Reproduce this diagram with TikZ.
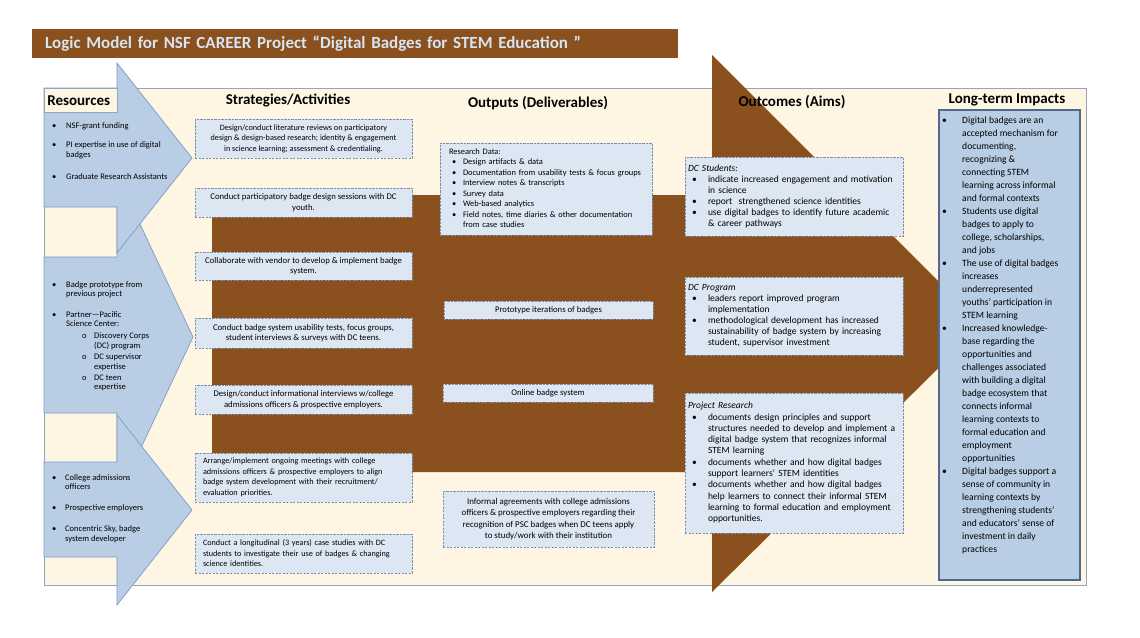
\documentclass[tikz,border=0pt]{standalone}
\usepackage{fontspec}
\setmainfont{Carlito}
\usepackage{array}
\definecolor{cream}{RGB}{254,246,226}
\definecolor{brownc}{RGB}{138,81,30}
\definecolor{bluefill}{RGB}{185,205,229}
\definecolor{blueline}{RGB}{125,155,195}
\definecolor{boxfill}{RGB}{221,231,243}
\definecolor{boxline}{RGB}{125,140,170}
\definecolor{ltline}{RGB}{80,105,140}
\definecolor{panelline}{RGB}{150,165,190}
\definecolor{titletext}{RGB}{215,228,242}
\tikzset{
  sbox/.style={draw=boxline, fill=boxfill, dash pattern=on 2.2pt off 1.3pt, line width=0.6pt, inner ysep=0pt},
  hdr/.style={font=\bfseries\fontsize{15}{18}\selectfont, text=black, inner sep=0pt},
  barrow/.style={fill=bluefill, draw=blueline, line width=0.7pt},
  reslist/.style={anchor=base west, inner sep=0pt, font=\fontsize{8.5}{9.6}\selectfont},
  stxt/.style={font=\fontsize{8.2}{10.5}\selectfont},
  stxtb/.style={font=\fontsize{8.7}{10.5}\selectfont},
  ctxt/.style={font=\fontsize{9.5}{11}\selectfont},
}
\begin{document}
\begin{tikzpicture}[x=1pt,y=-1pt]
\useasboundingbox (0,0) rectangle (1140,637);
\fill[white] (0,0) rectangle (1140,637);

% title bar
\node[fill=brownc, minimum width=646, minimum height=29, anchor=north west, inner xsep=13pt, text width=620, align=left, font=\bfseries\fontsize{17}{20}\selectfont, text=titletext] (title) at (32,29) {Logic Model for NSF CAREER Project “Digital Badges for STEM Education ”};

% background panel
\node[fill=cream, draw=panelline, line width=0.6pt, minimum width=1042, minimum height=497, anchor=north west, inner sep=0] (panel) at (44,88) {};

% big brown arrow
\fill[brownc] (212,195) -- (712,195) -- (712,55) -- (982,325) -- (712,592) -- (712,472) -- (212,472) -- cycle;

% blue resource arrows
\draw[barrow] (44,257) -- (117,257) -- (117,175) -- (193,337) -- (117,499) -- (117,413) -- (44,413) -- cycle;
\draw[barrow] (44,88) -- (117,88) -- (117,63) -- (192,158) -- (117,253) -- (117,207) -- (44,207) -- cycle;
\draw[barrow] (44,462) -- (117,462) -- (117,415) -- (192,510) -- (117,605) -- (117,557) -- (44,557) -- cycle;

% Resources label
\node[fill=cream, draw=panelline, line width=0.6pt, minimum width=73, minimum height=24, anchor=north west, inner xsep=3pt, inner ysep=0pt, text width=67, align=left, font=\bfseries\fontsize{15}{17}\selectfont] (res) at (44,88) {Resources};

% resource lists
\node[reslist] (r1) at (48,128) {\begin{tabular}[t]{@{\hspace{4pt}}p{14pt}@{}l@{}}
\textbullet & NSF-grant funding\\[10pt]
\textbullet & PI expertise in use of digital\\
 & badges\\[13pt]
\textbullet & Graduate Research Assistants
\end{tabular}};
\node[reslist] (r2) at (48,287) {\begin{tabular}[t]{@{\hspace{4pt}}p{14pt}@{}l@{}}
\textbullet & Badge prototype from\\
 & previous project\\[11pt]
\textbullet & Partner—Pacific\\
 & Science Center:\\[2.5pt]
 & \hspace{16pt}\makebox[12pt][l]{o}Discovery Corps\\
 & \hspace{28pt}(DC) program\\[1.5pt]
 & \hspace{16pt}\makebox[12pt][l]{o}DC supervisor\\
 & \hspace{28pt}expertise\\[1.5pt]
 & \hspace{16pt}\makebox[12pt][l]{o}DC teen\\
 & \hspace{28pt}expertise
\end{tabular}};
\node[reslist] (r3) at (48,480) {\begin{tabular}[t]{@{\hspace{4pt}}p{13pt}@{}l@{}}
\textbullet & College admissions\\
 & officers\\[11pt]
\textbullet & Prospective employers\\[12pt]
\textbullet & Concentric Sky, badge\\
 & system developer
\end{tabular}};

% headers
\node[hdr] (hs) at (288,100) {Strategies/Activities};
\node[hdr] (ho) at (538,103) {Outputs (Deliverables)};
\node[hdr] (hc) at (792,102) {Outcomes (Aims)};
\node[hdr] (hl) at (1007,100) {Long-term Impacts};

% strategies
\node[sbox, stxt, minimum width=217, minimum height=39, align=center] (s1) at (303.5,138.5) {Design/conduct literature reviews on participatory\\design \& design-based research; identity \& engagement\\in science learning; assessment \& credentialing.};
\node[sbox, stxtb, minimum width=217, minimum height=29, align=center] (s2) at (303.5,202.5) {Conduct participatory badge design sessions with DC\\youth.};
\node[sbox, stxtb, minimum width=217, minimum height=28, align=center] (s3) at (303.5,266) {Collaborate with vendor to develop \& implement badge\\system.};
\node[sbox, stxtb, minimum width=217, minimum height=30, align=center] (s4) at (303.5,333) {Conduct badge system usability tests, focus groups,\\student interviews \& surveys with DC teens.};
\node[sbox, stxtb, minimum width=217, minimum height=29, align=center] (s5) at (303.5,399.5) {Design/conduct informational interviews w/college\\admissions officers \& prospective employers.};
\node[sbox, stxt, minimum width=217, minimum height=49, inner xsep=8pt, text width=201, align=left] (s6) at (303.5,477.5) {Arrange/implement ongoing meetings with college\\admissions officers \& prospective employers to align\\badge system development with their recruitment/\\evaluation priorities.};
\node[sbox, stxt, minimum width=217, minimum height=39, inner xsep=8pt, text width=201, align=left] (s7) at (303.5,553.5) {Conduct a longitudinal (3 years) case studies with DC\\students to investigate their use of badges \& changing\\science identities.};

% outputs
\node[sbox, minimum width=212, minimum height=92, inner xsep=9pt, text width=194, align=left, font=\fontsize{8.4}{10.5}\selectfont] (o1) at (546,189) {\begin{tabular}{@{\hspace{3pt}}p{11pt}@{}l@{}}
\multicolumn{2}{@{}l@{}}{Research Data:}\\
\textbullet & Design artifacts \& data\\
\textbullet & Documentation from usability tests \& focus groups\\
\textbullet & Interview notes \& transcripts\\
\textbullet & Survey data\\
\textbullet & Web-based analytics\\
\textbullet & Field notes, time diaries \& other documentation\\
 & from case studies
\end{tabular}};
\node[sbox, stxtb, minimum width=209, minimum height=18, align=center] (o2) at (548.5,310) {Prototype iterations of badges};
\node[sbox, stxtb, minimum width=210, minimum height=18, align=center] (o3) at (548,393) {Online badge system};
\node[sbox, minimum width=211, minimum height=56, align=center, font=\fontsize{8.9}{11.3}\selectfont] (o4) at (548.5,519) {Informal agreements with college admissions\\officers \& prospective employers regarding their\\recognition of PSC badges when DC teens apply\\to study/work with their institution};

% outcomes
\node[sbox, ctxt, minimum width=218, minimum height=79, inner xsep=3pt, text width=212, align=left] (c1) at (794,196.5) {\begin{tabular}{@{\hspace{4pt}}p{16pt}@{}l@{}}
\multicolumn{2}{@{}l@{}}{\textit{DC Students:}}\\
\textbullet & indicate increased engagement and motivation\\
 & in science\\
\textbullet & report\ \ strengthened science identities\\
\textbullet & use digital badges to identify future academic\\
 & \& career pathways
\end{tabular}};
\node[sbox, ctxt, minimum width=218, minimum height=78, inner xsep=3pt, text width=212, align=left] (c2) at (794,316) {\begin{tabular}{@{\hspace{4pt}}p{16pt}@{}l@{}}
\multicolumn{2}{@{}l@{}}{\textit{DC Program}}\\
\textbullet & leaders report improved program\\
 & implementation\\
\textbullet & methodological development has increased\\
 & sustainability of badge system by increasing\\
 & student, supervisor investment
\end{tabular}};
\node[sbox, minimum width=218, minimum height=140, inner xsep=3pt, text width=212, align=left, font=\fontsize{9.5}{11.3}\selectfont] (c3) at (794,463) {\begin{tabular}{@{\hspace{4pt}}p{16pt}@{}l@{}}
\multicolumn{2}{@{}l@{}}{\textit{Project Research}}\\
\textbullet & documents design principles and support\\
 & structures needed to develop and implement a\\
 & digital badge system that recognizes informal\\
 & STEM learning\\
\textbullet & documents whether and how digital badges\\
 & support learners' STEM identities\\
\textbullet & documents whether and how digital badges\\
 & help learners to connect their informal STEM\\
 & learning to formal education and employment\\
 & opportunities.
\end{tabular}};

% long-term impacts
\node[draw=ltline, fill=bluefill, line width=1.8pt, minimum width=141, minimum height=470, inner sep=0pt] (lt) at (1009.5,345) {};
\node[anchor=base west, inner sep=0pt, font=\fontsize{9.6}{13.03}\selectfont] (lttxt) at (942,123) {\begin{tabular}[t]{@{}p{20pt}@{}l@{}}
\textbullet & Digital badges are an\\
 & accepted mechanism for\\
 & documenting,\\
 & recognizing \&\\
 & connecting STEM\\
 & learning across informal\\
 & and formal contexts\\
\textbullet & Students use digital\\
 & badges to apply to\\
 & college, scholarships,\\
 & and jobs\\
\textbullet & The use of digital badges\\
 & increases\\
 & underrepresented\\
 & youths' participation in\\
 & STEM learning\\
\textbullet & Increased knowledge-\\
 & base regarding the\\
 & opportunities and\\
 & challenges associated\\
 & with building a digital\\
 & badge ecosystem that\\
 & connects informal\\
 & learning contexts to\\
 & formal education and\\
 & employment\\
 & opportunities\\
\textbullet & Digital badges support a\\
 & sense of community in\\
 & learning contexts by\\
 & strengthening students'\\
 & and educators' sense of\\
 & investment in daily\\
 & practices
\end{tabular}};
\end{tikzpicture}
\end{document}
